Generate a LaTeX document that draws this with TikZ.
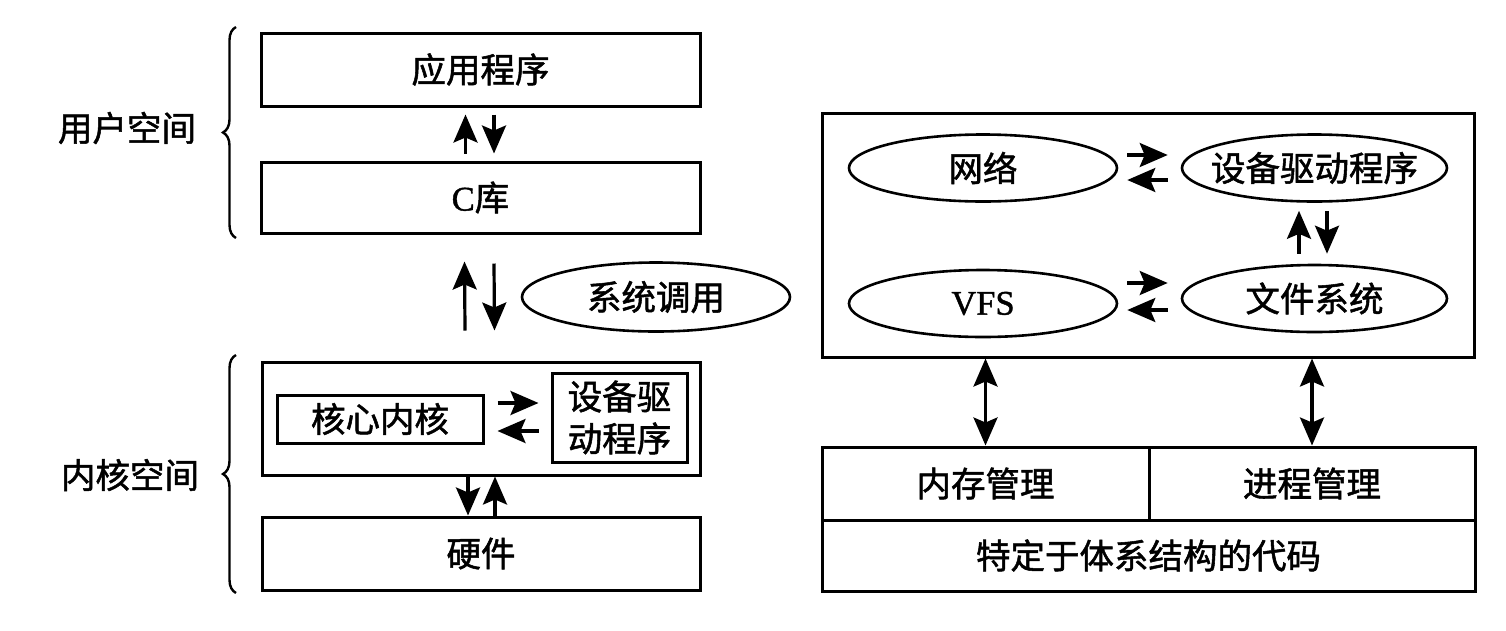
\documentclass[tikz,border=0pt]{standalone}
\usepackage{fontspec}
\setmainfont{Liberation Serif}[FakeBold=1.2]
\newfontfamily\cjk{Noto Sans CJK SC}[FakeBold=1.5]
\usetikzlibrary{shapes.geometric,arrows.meta,calc,decorations.pathreplacing}
\begin{document}
\begin{tikzpicture}[x=1pt,y=-1pt,
  txt/.style={font=\cjk\fontsize{34.5}{42}\selectfont},
  box/.style={draw,line width=3pt,rectangle,inner sep=0pt,txt,align=center},
  ell/.style={draw,line width=2.6pt,ellipse,inner sep=0pt,txt},
  tip/.style={Stealth[length=28pt,width=24pt,inset=5pt]},
  arr/.style={line width=3.2pt,-{Stealth[length=28pt,width=24pt,inset=5pt]}},
  darr/.style={line width=3.2pt,{Stealth[length=28pt,width=24pt,inset=5pt]}-{Stealth[length=28pt,width=24pt,inset=5pt]}},
  brc/.style={line width=2.4pt,decorate,decoration={brace,amplitude=13pt}}]
\useasboundingbox (0,0) rectangle (1506,630);
% left column
\node[box,minimum width=439pt,minimum height=73pt] (app) at (480.5,69.5) {应用程序};
\node[box,minimum width=439pt,minimum height=71pt] (clib) at (480.5,197.5) {\textrm{C}库};
\node[box,minimum width=438pt,minimum height=113pt] (kernel) at (481,418.5) {};
\node[box,minimum width=206pt,minimum height=48pt] (core) at (380,419) {核心内核};
\node[box,minimum width=135pt,minimum height=89pt] (devdrv) at (619.5,417.5) {设备驱\\动程序};
\node[box,minimum width=438pt,minimum height=73pt] (hw) at (481,553.5) {硬件};
\node[ell,minimum width=268pt,minimum height=69pt] (sys) at (656,297) {系统调用};
% braces and labels
\coordinate (ub1) at (236,238); \coordinate (ub2) at (236,27);
\coordinate (kb1) at (236,593); \coordinate (kb2) at (236,355);
\draw[brc] (ub1) -- (ub2);
\draw[brc] (kb1) -- (kb2);
\node[txt] (ulab) at (127,128) {用户空间};
\node[txt] (klab) at (130,475) {内核空间};
% left arrows
\draw[arr] ($(clib.north)+(-15,-7)$) -- ($(app.south)+(-15,7)$);
\draw[arr] ($(app.south)+(13.5,7)$) -- ($(clib.north)+(13.5,-7)$);
\draw[arr] ($(kernel.north)+(-16,-30)$) -- ($(clib.south)+(-16,27)$);
\draw[arr] ($(clib.south)+(13.5,29)$) -- ($(kernel.north)+(13.5,-30)$);
\draw[arr] ($(core.east)+(13,-16)$) -- ($(devdrv.west)+(-12,-14.5)$);
\draw[arr] ($(devdrv.west)+(-12,13.5)$) -- ($(core.east)+(13,12)$);
\draw[arr] ($(kernel.south)+(-13,0)$) -- ($(hw.north)+(-13,0)$);
\draw[arr] ($(hw.north)+(14,0)$) -- ($(kernel.south)+(14,0)$);
% right column
\node[box,minimum width=652pt,minimum height=244pt] (outer) at (1148,235) {};
\node[ell,minimum width=268pt,minimum height=67pt] (net) at (983,168) {网络};
\node[ell,minimum width=265pt,minimum height=67pt,label={[txt]center:设备驱动程序}] (devE) at (1314.5,168) {};
\node[ell,minimum width=268pt,minimum height=67pt] (vfs) at (983,303.5) {\textrm{VFS}};
\node[ell,minimum width=265pt,minimum height=67pt] (fs) at (1314.5,298.5) {文件系统};
\node[box,minimum width=327pt,minimum height=73pt] (mem) at (985.5,483.5) {内存管理};
\node[box,minimum width=326pt,minimum height=73pt] (proc) at (1312,483.5) {进程管理};
\node[box,minimum width=653pt,minimum height=71pt] (arch) at (1148.5,555.5) {特定于体系结构的代码};
\draw[arr] ($(net.east)+(9,-13)$) -- ($(devE.west)+(-13,-13)$);
\draw[arr] ($(devE.west)+(-13,12)$) -- ($(net.east)+(9,12)$);
\draw[arr] ($(vfs.east)+(9,-20.5)$) -- ($(fs.west)+(-13,-15.5)$);
\draw[arr] ($(fs.west)+(-13,11.5)$) -- ($(vfs.east)+(9,6.5)$);
\draw[arr] ($(fs.north)+(-15.5,-10)$) -- ($(devE.south)+(-15.5,8)$);
\draw[arr] ($(devE.south)+(12.5,8)$) -- ($(fs.north)+(12.5,-10)$);
\draw[darr] (mem.north) -- (mem.north |- outer.south);
\draw[darr] (proc.north) -- (proc.north |- outer.south);
\end{tikzpicture}
\end{document}
